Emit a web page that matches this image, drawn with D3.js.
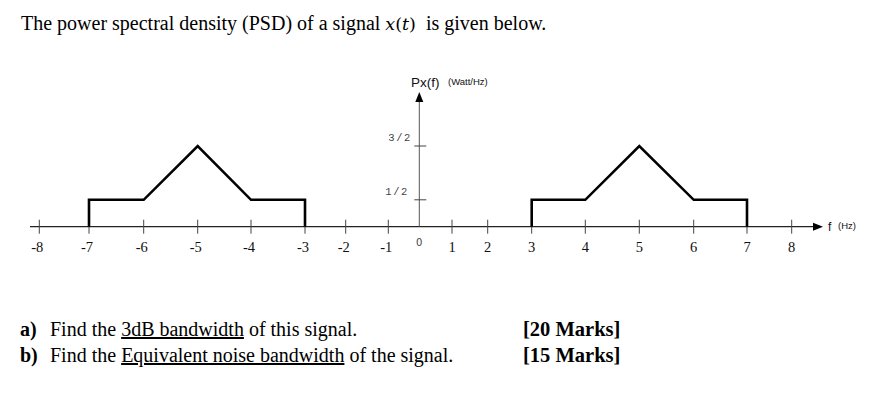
<!DOCTYPE html>
<html>
<head>
<meta charset="utf-8">
<script src="https://cdn.jsdelivr.net/npm/d3@7"></script>
<style>
  body { margin: 0; background: #fff; }
  svg { display: block; }
</style>
</head>
<body>
<div id="chart"></div>
<script>
// tick values on the frequency axis
const xTicks = [-8, -7, -6, -5, -4, -3, -2, -1, 0, 1, 2, 3, 4, 5, 6, 7, 8];
// psd values (W/Hz)
const yTicks = [0.5, 1.5];
const yTickLabels = ["1/2", "3/2"];
const negFreq = [-7, -7, -6, -5, -4, -3, -3];
const negPsd = [0, 0.5, 0.5, 1.5, 0.5, 0.5, 0];
const posFreq = [3, 3, 4, 5, 6, 7, 7];
const posPsd = [0, 0.5, 0.5, 1.5, 0.5, 0.5, 0];

const width = 893, height = 399;

const svg = d3.select("#chart")
    .append("svg")
    .attr("width", width)
    .attr("height", height);

svg.append("rect").attr("width", width).attr("height", height).attr("fill", "#fff");

// the hand-drawn axis is not evenly spaced, so use a piecewise scale
const xScale = d3.scaleLinear()
    .domain(xTicks)
    .range([39.3, 89, 143.7, 197.7, 251, 305, 345.7, 388.3, 419.3, 452, 487.7, 531.7, 585.3, 639.3, 693.7, 747, 791.7]);

const yScale = d3.scaleLinear()
    .domain([0, 1.5])
    .range([226.7, 146]);

const serif = "'Liberation Serif', 'Times New Roman', serif";
const sans = "'Liberation Sans', Arial, sans-serif";
const math = "'DejaVu Serif', serif";

// title
const title = svg.append("text")
    .attr("x", 21)
    .attr("y", 30)
    .attr("font-family", serif)
    .attr("font-size", 20)
    .attr("fill", "#000");
title.append("tspan").text("The power spectral density (PSD) of a signal ");
title.append("tspan").attr("font-style", "italic").attr("font-family", math).attr("font-size", 17.5).text("x");
title.append("tspan").attr("font-family", math).attr("font-size", 17.5).text("(");
title.append("tspan").attr("font-style", "italic").attr("font-family", math).attr("font-size", 17.5).text("t");
title.append("tspan").attr("font-family", math).attr("font-size", 17.5).text(")");
title.append("tspan").text("\u00a0 is given below.");

const baseY = yScale(0);

// x axis
svg.append("line")
    .attr("x1", 30).attr("x2", 814)
    .attr("y1", baseY).attr("y2", baseY)
    .attr("stroke", "#222").attr("stroke-width", 1.2);
svg.append("path")
    .attr("d", `M813,${baseY - 4}L823,${baseY}L813,${baseY + 4}Z`)
    .attr("fill", "#000");

svg.selectAll(".xtick")
    .data(xTicks.filter(d => d !== 0))
    .enter()
    .append("line")
    .attr("class", "xtick")
    .attr("x1", d => xScale(d)).attr("x2", d => xScale(d))
    .attr("y1", baseY - 7).attr("y2", baseY + 7)
    .attr("stroke", "#444").attr("stroke-width", 1);

svg.selectAll(".xlabel")
    .data(xTicks.filter(d => d !== 0))
    .enter()
    .append("text")
    .attr("class", "xlabel")
    .attr("x", d => xScale(d) - (d < 0 ? 2 : 0))
    .attr("y", 251.5)
    .attr("text-anchor", "middle")
    .attr("font-family", serif)
    .attr("font-size", 14.5)
    .attr("fill", "#111")
    .text(d => d);

svg.append("text")
    .attr("x", xScale(0))
    .attr("y", 246)
    .attr("text-anchor", "middle")
    .attr("font-family", "'DejaVu Sans', sans-serif")
    .attr("font-size", 10)
    .attr("fill", "#444")
    .text("0");

// y axis
svg.append("line")
    .attr("x1", xScale(0)).attr("x2", xScale(0))
    .attr("y1", baseY).attr("y2", 100)
    .attr("stroke", "#555").attr("stroke-width", 1);
svg.append("path")
    .attr("d", `M${xScale(0) - 4},102L${xScale(0)},92L${xScale(0) + 4},102Z`)
    .attr("fill", "#000");

svg.selectAll(".ytick")
    .data(yTicks)
    .enter()
    .append("line")
    .attr("class", "ytick")
    .attr("x1", xScale(0) - 5).attr("x2", xScale(0) + 7)
    .attr("y1", d => yScale(d)).attr("y2", d => yScale(d))
    .attr("stroke", "#444").attr("stroke-width", 1);

svg.selectAll(".ylabel")
    .data(yTicks)
    .enter()
    .append("text")
    .attr("class", "ylabel")
    .attr("x", (d, i) => i === 0 ? 409 : 412)
    .attr("y", d => yScale(d) - 5)
    .attr("text-anchor", "end")
    .attr("font-family", "'Liberation Mono', 'Courier New', monospace")
    .attr("font-size", 10.5)
    .attr("letter-spacing", 1.6)
    .attr("fill", "#444")
    .text((d, i) => yTickLabels[i]);

// axis titles
svg.append("text")
    .attr("x", 411).attr("y", 86.5)
    .attr("font-family", sans).attr("font-size", 13.5).attr("fill", "#111")
    .text("Px(f)");
svg.append("text")
    .attr("x", 448).attr("y", 85)
    .attr("font-family", sans).attr("font-size", 9.5).attr("fill", "#111")
    .text("(Watt/Hz)");
svg.append("text")
    .attr("x", 828).attr("y", baseY + 4)
    .attr("font-family", sans).attr("font-size", 12).attr("fill", "#111")
    .text("f");
svg.append("text")
    .attr("x", 838).attr("y", baseY + 2)
    .attr("font-family", sans).attr("font-size", 9.5).attr("fill", "#111")
    .text("(Hz)");

// psd curves
const line = d3.line()
    .x(d => xScale(d[0]))
    .y(d => yScale(d[1]));

[[negFreq, negPsd], [posFreq, posPsd]].forEach(([f, p]) => {
    svg.append("path")
        .datum(d3.zip(f, p))
        .attr("d", line)
        .attr("fill", "none")
        .attr("stroke", "#000")
        .attr("stroke-width", 2.6)
        .attr("stroke-linejoin", "miter");
});

// questions
function question(y, label, pre, under, post, marks) {
    const t = svg.append("text")
        .attr("x", 20).attr("y", y)
        .attr("font-family", serif).attr("font-size", 20).attr("fill", "#000");
    t.append("tspan").attr("font-weight", "bold").text(label);
    t.append("tspan").attr("x", 50).text(pre);
    t.append("tspan").attr("text-decoration", "underline").text(under);
    t.append("tspan").text(post);
    svg.append("text")
        .attr("x", 523).attr("y", y)
        .attr("font-family", serif).attr("font-size", 20.5).attr("font-weight", "bold").attr("fill", "#000")
        .text(marks);
}
question(336, "a)", "Find the ", "3dB bandwidth", " of this signal.", "[20 Marks]");
question(362, "b)", "Find the ", "Equivalent noise bandwidth", " of the signal.", "[15 Marks]");
</script>
</body>
</html>
